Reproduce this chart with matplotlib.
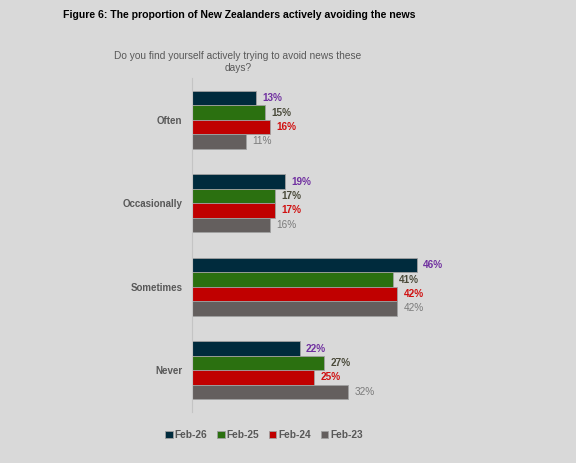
import matplotlib.pyplot as plt
import numpy as np

# chart data
categories = ["Often", "Occasionally", "Sometimes", "Never"]
series_names = ["Feb-26", "Feb-25", "Feb-24", "Feb-23"]
feb26 = [13, 19, 46, 22]
feb25 = [15, 17, 41, 27]
feb24 = [16, 17, 42, 25]
feb23 = [11, 16, 42, 32]

BG = "#d9d9d9"
bar_colors = ["#002b3d", "#2b7010", "#c00000", "#645f5e"]
label_colors = ["#7030a0", "#4a4a3a", "#d01010", "#7a7a7a"]
label_weights = ["bold", "bold", "bold", "normal"]

plt.rcParams["font.family"] = ["Liberation Sans", "DejaVu Sans"]

fig = plt.figure(figsize=(5.76, 4.63), dpi=100, facecolor=BG)
ax = fig.add_axes([0.3333, 0.1102, 0.467, 0.7214])
ax.set_facecolor(BG)

values = [feb26, feb25, feb24, feb23]
bar_h = 0.1725
y = np.arange(len(categories))
for k, (name, vals) in enumerate(zip(series_names, values)):
    offs = y - 1.5 * bar_h + k * bar_h
    ax.barh(offs, vals, height=bar_h, color=bar_colors[k], edgecolor="#a0a0a0",
            linewidth=0.6, label=name)
    for yy, v in zip(offs, vals):
        ax.text(v + 1.3, yy, f"{v}%", va="center", ha="left", fontsize=7.2,
                color=label_colors[k], fontweight=label_weights[k])

ax.set_xlim(0, 55)
ax.set_ylim(len(categories) - 0.5, -0.5)
ax.set_yticks(y)
ax.set_yticklabels(categories, fontsize=7.0, color="#595959", fontweight="bold")
ax.tick_params(axis="y", length=0, pad=7)
ax.set_xticks([])
for s in ["top", "right", "bottom"]:
    ax.spines[s].set_visible(False)
ax.spines["left"].set_color("#c4c4c4")
ax.spines["left"].set_linewidth(0.8)

fig.text(63 / 576, 1 - 15 / 463, "Figure 6: The proportion of New Zealanders actively avoiding the news",
         fontsize=7.6, fontweight="bold", color="black", ha="left", va="center")
fig.text(238 / 576, 1 - 62 / 463, "Do you find yourself actively trying to avoid news these\ndays?",
         fontsize=7.3, color="#595959", ha="center", va="center", linespacing=1.3)

leg = fig.legend(loc="center", bbox_to_anchor=(264 / 576, 1 - 435 / 463), ncol=4,
                 frameon=False, handlelength=0.75, handleheight=0.75,
                 handletextpad=0.2, columnspacing=0.95, fontsize=7.3)
for t in leg.get_texts():
    t.set_color("#595959")
    t.set_fontweight("bold")

fig.savefig("out.png", dpi=100, facecolor=BG)
